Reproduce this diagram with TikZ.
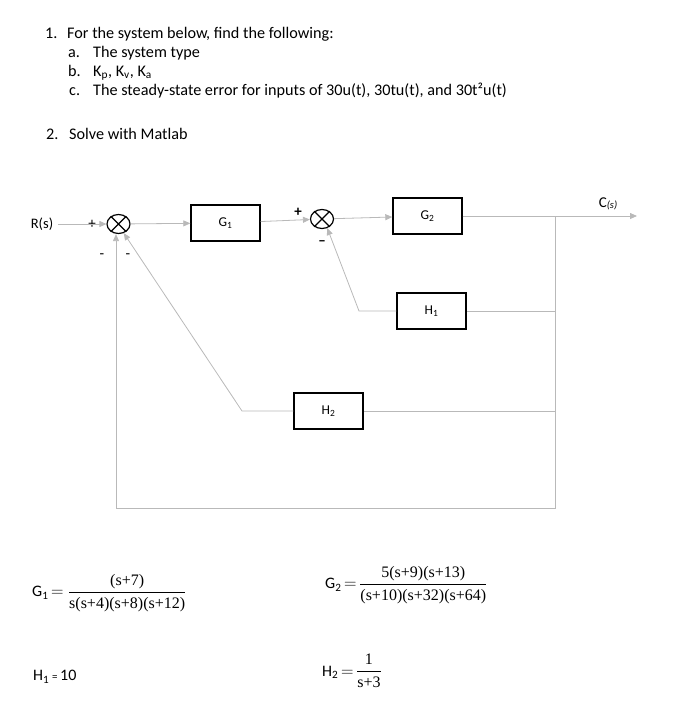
\documentclass[tikz,border=0pt]{standalone}
\usepackage{amsmath}
\usepackage{fontspec}
\setmainfont{Carlito}
\newfontfamily\eqfont{Liberation Serif}
\usetikzlibrary{arrows.meta, shapes.geometric}

\newcommand{\lowix}[1]{\textsubscript{#1}}
\newcommand{\eqtxt}[1]{\text{\eqfont #1}}

\begin{document}
\begin{tikzpicture}[x=1pt, y=-1pt, >={Triangle[length=7pt, width=6pt]},
	every node/.style={inner sep=0pt, font=\fontsize{16.2}{19}\selectfont},
	blk/.style={draw=black, line width=1.4pt, minimum width=69pt, minimum height=36pt, font=\fontsize{13.5}{15}\selectfont},
	summer/.style={draw=black, ellipse, line width=1.2pt, minimum width=23pt, minimum height=19pt},
	sig/.style={draw=gray!55, line width=0.8pt},
	sgn/.style={font=\fontsize{15}{16}\selectfont},
	eqn/.style={anchor=west, font=\fontsize{16}{18}\selectfont}]
	
	\useasboundingbox (0,0) rectangle (675,723);
	
	% Testo della consegna
	\node[anchor=base west] (qOneNum) at (45,38) {1.};
	\node[anchor=base west] (qOne)    at (67,38) {For the system below, find the following:};
	\node[anchor=base west] (qA)      at (68,57) {a.};
	\node[anchor=base west] (qAtxt)   at (93,57) {The system type};
	\node[anchor=base west] (qB)      at (68,76) {b.};
	\node[anchor=base west] (qBtxt)   at (93,76) {K\lowix{p}, K\lowix{v}, K\lowix{a}};
	\node[anchor=base west] (qC)      at (69,95) {c.};
	\node[anchor=base west] (qCtxt)   at (93,95) {The steady-state error for inputs of 30u(t), 30tu(t), and 30t²u(t)};
	\node[anchor=base west] (qTwoNum) at (46,139) {2.};
	\node[anchor=base west] (qTwo)    at (69,139) {Solve with Matlab};
	
	% Blocchi e sommatori
	\node[font=\fontsize{14.5}{16}\selectfont] (inR) at (42,224) {R(s)};
	\node[summer] (sumA) at (118.5,224) {};
	\node[blk]    (gOne) at (225.5,223) {G\lowix{1}};
	\node[summer] (sumB) at (322,219) {};
	\node[blk]    (gTwo) at (427.5,216) {G\lowix{2}};
	\node[blk]    (hOne) at (431.5,311) {H\lowix{1}};
	\node[blk]    (hTwo) at (328.5,411) {H\lowix{2}};
	
	\foreach \s in {sumA, sumB} {
		\draw[line width=1.2pt] (\s.45) -- (\s.225) (\s.135) -- (\s.315);
	}
	
	% Segni ai sommatori
	\node[sgn] (plusA)  at (92,224)  {+};
	\node[sgn] (minAa)  at (102,256) {-};
	\node[sgn] (minAb)  at (128,256) {-};
	\node[sgn] (plusB)  at (298,212) {\textbf{+}};
	\node[sgn] (minB)   at (322,243) {\textbf{–}};
	\node[font=\fontsize{15}{16}\selectfont] (outC) at (608,204) {C\raisebox{-1.5pt}{\fontsize{10.5}{12}\selectfont\itshape(s)}};
	
	% Punti di diramazione
	\coordinate (outEnd) at (637,216);
	\coordinate (brOut)  at (555,216);
	\coordinate (brOne)  at (555,311);
	\coordinate (brTwo)  at (555,411);
	\coordinate (botR)   at (555,508);
	\coordinate (botL)   at (116,508);
	\coordinate (hOneL)  at (359,311);
	\coordinate (hTwoL)  at (242,411);
	
	% Ramo diretto
	\draw[sig, ->, shorten <=5pt] (inR) -- (sumA);
	\draw[sig, ->] (sumA) -- (gOne);
	\draw[sig, ->] (gOne) -- (sumB);
	\draw[sig, ->] (sumB) -- (gTwo);
	\draw[sig, ->] (gTwo) -- (outEnd);
	
	% Retroazioni
	\draw[sig] (brOut) -- (botR) -- (botL);
	\draw[sig, ->] (botL) -- (botL |- sumA.south);
	\draw[sig] (brOne) -- (hOne);
	\draw[sig, ->] (hOne) -- (hOneL) -- (sumB.-60);
	\draw[sig] (brTwo) -- (hTwo);
	\draw[sig, ->] (hTwo) -- (hTwoL) -- (sumA.-60);
	
	% Funzioni di trasferimento
	\node[eqn] (eqGOne) at (32,593) {G\lowix{1}\,$=$\;$\dfrac{\eqtxt{(s+7)}}{\eqtxt{s(s+4)(s+8)(s+12)}}$};
	\node[eqn] (eqGTwo) at (325,585) {G\lowix{2}\,$=$\,$\dfrac{\eqtxt{5(s+9)(s+13)}}{\eqtxt{(s+10)(s+32)(s+64)}}$};
	\node[eqn] (eqHOne) at (33,677) {H\lowix{1}\,{\fontsize{11}{12}\selectfont=}\,10};
	\node[eqn] (eqHTwo) at (322,671) {H\lowix{2}\,$=$\,$\dfrac{\eqtxt{1}}{\eqtxt{s+3}}$};
	
\end{tikzpicture}
\end{document}
